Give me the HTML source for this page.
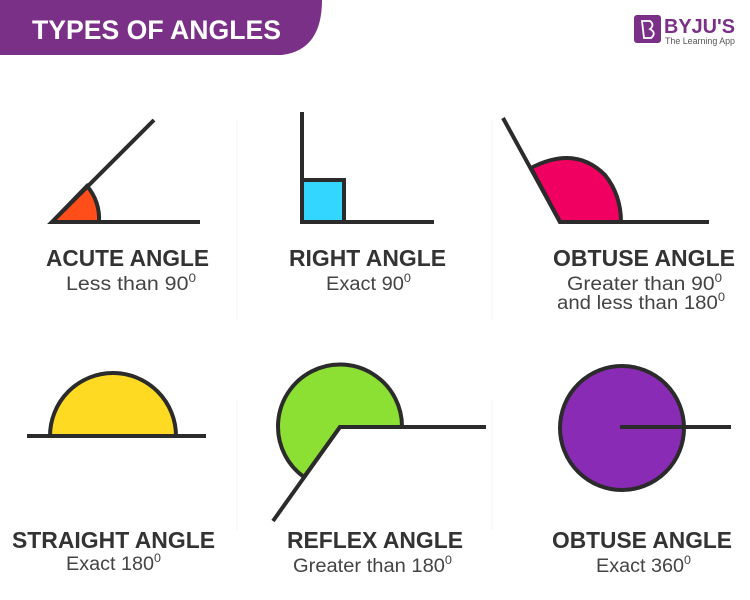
<!DOCTYPE html>
<html><head><meta charset="utf-8"><style>
body{margin:0;background:#fff}
svg{display:block}
text{font-family:"Liberation Sans",Arial,sans-serif}
.t{font-weight:bold;font-size:23px;fill:#333}
.s{font-size:19px;fill:#444}
</style></head><body>
<svg width="750" height="600" viewBox="0 0 750 600" xmlns="http://www.w3.org/2000/svg">
<path d="M0 0 H322 Q322 50 282 55 H0 Z" fill="#7B3088"/>
<text x="32" y="39" font-size="27" font-weight="bold" fill="#fff" textLength="249" lengthAdjust="spacingAndGlyphs">TYPES OF ANGLES</text>
<rect x="634" y="15" width="27" height="28" rx="3" fill="#7B3088"/>
<path d="M642 21 L650 21 Q655 25 650 29 Q657 33 651 38 L644 38 Z" fill="none" stroke="#fff" stroke-width="1.8"/>
<text x="664" y="33" font-size="20" font-weight="bold" fill="#7B3088" textLength="71" lengthAdjust="spacingAndGlyphs">BYJU'S</text>
<text x="665" y="44" font-size="9" fill="#555" textLength="70" lengthAdjust="spacingAndGlyphs">The Learning App</text>
<line x1="237" y1="120" x2="237" y2="320" stroke="#f3f3f3"/>
<line x1="492" y1="120" x2="492" y2="320" stroke="#f3f3f3"/>
<line x1="237" y1="400" x2="237" y2="530" stroke="#f3f3f3"/>
<line x1="492" y1="400" x2="492" y2="530" stroke="#f3f3f3"/>
<g stroke="#2b2b2b" stroke-width="4" stroke-linejoin="miter">
<path d="M52 222 L87 186 A50 50 0 0 1 99 222 Z" fill="#FF4E1A"/>
<polyline points="154,120 52,222 200,222" fill="none"/>
<rect x="302" y="180" width="42" height="42" fill="#33D6FF"/>
<polyline points="302,112 302,222 434,222" fill="none"/>
<path d="M560 222 L531 168 Q575 145 605 175 Q621 195 621 222 Z" fill="#F00060"/>
<polyline points="503,118 560,222 709,222" fill="none"/>
<path d="M50 436 A63 63 0 0 1 176 436 Z" fill="#FFDA22"/>
<line x1="27" y1="436" x2="206" y2="436"/>
<path d="M340 427 L402 427 A62 62 0 1 0 304 477 Z" fill="#8CE033"/>
<polyline points="486,427 340,427 273,521" fill="none"/>
<circle cx="622" cy="428" r="62" fill="#8A2BB5"/>
<line x1="620" y1="427" x2="731" y2="427"/>
</g>
<text class="t" x="46" y="266" textLength="163" lengthAdjust="spacingAndGlyphs">ACUTE ANGLE</text>
<text class="s" x="66" y="290" textLength="130" lengthAdjust="spacingAndGlyphs">Less than 90<tspan font-size="12" dy="-8">0</tspan></text>
<text class="t" x="289" y="266" textLength="157" lengthAdjust="spacingAndGlyphs">RIGHT ANGLE</text>
<text class="s" x="326" y="290" textLength="85" lengthAdjust="spacingAndGlyphs">Exact 90<tspan font-size="12" dy="-8">0</tspan></text>
<text class="t" x="553" y="266" textLength="182" lengthAdjust="spacingAndGlyphs">OBTUSE ANGLE</text>
<text class="s" x="567" y="290" textLength="155" lengthAdjust="spacingAndGlyphs">Greater than 90<tspan font-size="12" dy="-8">0</tspan></text>
<text class="s" x="557" y="309" textLength="168" lengthAdjust="spacingAndGlyphs">and less than 180<tspan font-size="12" dy="-8">0</tspan></text>
<text class="t" x="12" y="548" textLength="203" lengthAdjust="spacingAndGlyphs">STRAIGHT ANGLE</text>
<text class="s" x="66" y="570" textLength="95" lengthAdjust="spacingAndGlyphs">Exact 180<tspan font-size="12" dy="-8">0</tspan></text>
<text class="t" x="287" y="548" textLength="176" lengthAdjust="spacingAndGlyphs">REFLEX ANGLE</text>
<text class="s" x="293" y="572" textLength="159" lengthAdjust="spacingAndGlyphs">Greater than 180<tspan font-size="12" dy="-8">0</tspan></text>
<text class="t" x="552" y="548" textLength="180" lengthAdjust="spacingAndGlyphs">OBTUSE ANGLE</text>
<text class="s" x="596" y="572" textLength="95" lengthAdjust="spacingAndGlyphs">Exact 360<tspan font-size="12" dy="-8">0</tspan></text>
</svg>
</body></html>
